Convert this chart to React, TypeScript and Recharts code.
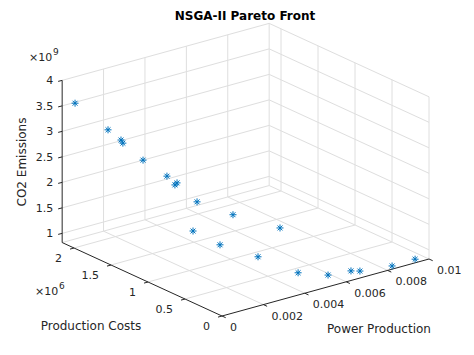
import { ScatterChart, Scatter, XAxis, YAxis, ReferenceLine, Customized } from 'recharts';

// Pareto front points (cost in 1e6, power in 1e-3, CO2 in 1e9)
const costs = [2.05, 1.75, 1.6, 1.58, 1.4, 1.2, 1.12, 1.1, 0.95, 0.85, 0.8, 0.5, 0.55, 0.4, 0.25, 0.15, 0.12, 0.1, 0.04, 0.02];
const power = [0.23, 0.75, 0.84, 0.86, 1.19, 1.63, 1.73, 1.76, 2.19, 3.57, 1.46, 4.59, 1.87, 3.17, 4.57, 5.66, 6.66, 7.02, 8.36, 9.4];
const co2 = [3.6, 3.22, 3.11, 3.06, 2.81, 2.58, 2.45, 2.5, 2.18, 1.84, 1.79, 1.7, 1.64, 1.36, 0.99, 0.89, 0.88, 0.85, 0.84, 0.87];

const costTicks = [0, 0.5, 1, 1.5, 2];
const costTickLabels = ['0', '0.5', '1', '1.5', '2'];
const powerTicks = [0, 2, 4, 6, 8, 10];
const powerTickLabels = ['0', '0.002', '0.004', '0.006', '0.008', '0.01'];
const co2Ticks = [1, 1.5, 2, 2.5, 3, 3.5, 4];
const co2TickLabels = ['1', '1.5', '2', '2.5', '3', '3.5', '4'];

const C_MAX = 2.16;
const P_MAX = 10;
const Z_MIN = 0.82;
const Z_MAX = 4;

const W = 474;
const H = 355;

// simple fixed-view projection of the 3d box onto the plot plane
const proj = (c: number, p: number, z: number) => ({
  x: 222 - 74 * c + 20.7 * p,
  y: 316 - 34 * c - 5.7 * p - 51 * (z - Z_MIN),
});

const points = costs.map((c, i) => {
  const q = proj(c, power[i], co2[i]);
  return { sx: q.x, sy: q.y };
});

type Seg = [{ x: number; y: number }, { x: number; y: number }];
const seg = (a: number[], b: number[]): Seg => [proj(a[0], a[1], a[2]), proj(b[0], b[1], b[2])];

const gridSegs: Seg[] = [];
co2Ticks.forEach((z) => {
  gridSegs.push(seg([C_MAX, 0, z], [C_MAX, P_MAX, z]));
  gridSegs.push(seg([0, P_MAX, z], [C_MAX, P_MAX, z]));
});
[2, 4, 6, 8, 10].forEach((p) => {
  gridSegs.push(seg([C_MAX, p, Z_MIN], [C_MAX, p, Z_MAX]));
  gridSegs.push(seg([0, p, Z_MIN], [C_MAX, p, Z_MIN]));
});
costTicks.forEach((c) => {
  gridSegs.push(seg([c, P_MAX, Z_MIN], [c, P_MAX, Z_MAX]));
  if (c > 0) gridSegs.push(seg([c, 0, Z_MIN], [c, P_MAX, Z_MIN]));
});
gridSegs.push(seg([C_MAX, 0, Z_MIN], [C_MAX, P_MAX, Z_MIN]));

const axisSegs: Seg[] = [
  seg([C_MAX, 0, Z_MIN], [C_MAX, 0, Z_MAX]),
  seg([0, 0, Z_MIN], [C_MAX, 0, Z_MIN]),
  seg([0, 0, Z_MIN], [0, P_MAX, Z_MIN]),
];
co2Ticks.forEach((z) => {
  const a = proj(C_MAX, 0, z);
  axisSegs.push([a, { x: a.x - 4, y: a.y + 1 }]);
});
costTicks.forEach((c) => {
  const a = proj(c, 0, Z_MIN);
  axisSegs.push([a, { x: a.x - 4, y: a.y + 1.1 }]);
});
powerTicks.forEach((p) => {
  const a = proj(0, p, Z_MIN);
  axisSegs.push([a, { x: a.x + 3.7, y: a.y + 1.7 }]);
});

const Asterisk = (props: any) => {
  const { cx, cy } = props;
  const r = 3.5;
  const d = r * 0.7;
  return (
    <g stroke="#0072BD" strokeWidth={1}>
      <line x1={cx - r} y1={cy} x2={cx + r} y2={cy} />
      <line x1={cx} y1={cy - r} x2={cx} y2={cy + r} />
      <line x1={cx - d} y1={cy - d} x2={cx + d} y2={cy + d} />
      <line x1={cx - d} y1={cy + d} x2={cx + d} y2={cy - d} />
    </g>
  );
};

const Labels = () => (
  <g fill="#262626" fontFamily="DejaVu Sans">
    <text x={245} y={20} textAnchor="middle" fontSize={12} fontWeight="bold" fill="#000">
      NSGA-II Pareto Front
    </text>
    {co2Ticks.map((z, i) => {
      const a = proj(C_MAX, 0, z);
      return (
        <text key={`z${i}`} x={a.x - 9} y={a.y + 4} textAnchor="end" fontSize={11}>
          {co2TickLabels[i]}
        </text>
      );
    })}
    {costTicks.map((c, i) => {
      const a = proj(c, 0, Z_MIN);
      return (
        <text key={`c${i}`} x={a.x - 12} y={a.y + 14} textAnchor="end" fontSize={11}>
          {costTickLabels[i]}
        </text>
      );
    })}
    {powerTicks.map((p, i) => {
      const a = proj(0, p, Z_MIN);
      return (
        <text key={`p${i}`} x={a.x + 8} y={a.y + 15} textAnchor="start" fontSize={11}>
          {powerTickLabels[i]}
        </text>
      );
    })}
    <text x={29} y={61} fontSize={11}>×10</text>
    <text x={53} y={55} fontSize={9}>9</text>
    <text x={35} y={295} fontSize={11}>×10</text>
    <text x={59} y={289} fontSize={9}>6</text>
    <text x={22} y={162} fontSize={12} textAnchor="middle" dominantBaseline="central" transform="rotate(-90 22 162)">
      CO2 Emissions
    </text>
    <text x={91} y={330} fontSize={12} textAnchor="middle">Production Costs</text>
    <text x={379} y={333} fontSize={12} textAnchor="middle">Power Production</text>
  </g>
);

export default function App() {
  return (
    <div style={{ width: W, height: H, background: '#fff', fontFamily: 'DejaVu Sans' }}>
      <style>{'body{margin:0}'}</style>
      <ScatterChart width={W} height={H} margin={{ top: 0, right: 0, bottom: 0, left: 0 }}>
        <XAxis type="number" dataKey="sx" domain={[0, W]} hide />
        <YAxis type="number" dataKey="sy" domain={[0, H]} reversed hide />
        {gridSegs.map((s, i) => (
          <ReferenceLine key={`g${i}`} segment={s} stroke="#dedede" strokeWidth={1} ifOverflow="visible" />
        ))}
        {axisSegs.map((s, i) => (
          <ReferenceLine key={`a${i}`} segment={s} stroke="#262626" strokeWidth={1} ifOverflow="visible" />
        ))}
        <Scatter data={points} dataKey="sy" shape={Asterisk} isAnimationActive={false} />
        <Customized component={Labels} />
      </ScatterChart>
    </div>
  );
}
